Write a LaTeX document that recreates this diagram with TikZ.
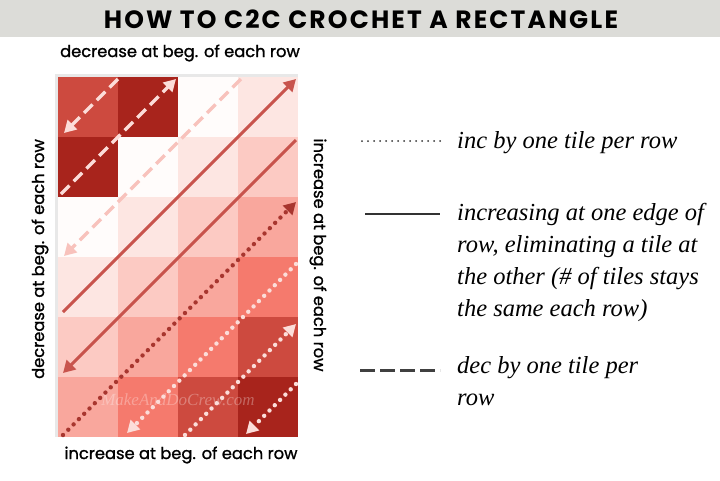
\documentclass[tikz,border=0pt]{standalone}
\usepackage{fontspec}
\setmainfont{Liberation Serif}
\newfontfamily\sanslabel[FakeBold=1.2]{Poppins}
\newfontfamily\titlefont[LetterSpace=8.7]{Poppins}
\usetikzlibrary{arrows.meta}
\definecolor{bandgrey}{HTML}{DCDCD8}
\definecolor{tile0}{HTML}{FFFCFB}
\definecolor{tile1}{HTML}{FDE6E2}
\definecolor{tile2}{HTML}{FCCAC3}
\definecolor{tile3}{HTML}{F9A79D}
\definecolor{tile4}{HTML}{F57A6D}
\definecolor{tile5}{HTML}{CD4A3F}
\definecolor{tile6}{HTML}{A8241C}
\definecolor{rowred}{HTML}{C8544D}
\definecolor{dotred}{HTML}{A8362F}
\definecolor{palewhite}{HTML}{FCDDD9}
\definecolor{palepink}{HTML}{F8C2BC}
\newcommand\rowtext[1]{{\sanslabel\fontsize{16.3}{18}\selectfont #1}}
\def\incLabel{\rowtext{increase at beg. of each row}}
\def\decLabel{\rowtext{decrease at beg. of each row}}

\begin{document}
\begin{tikzpicture}[x=1pt,y=-1pt]
\tikzset{
  tip/.style={-{Triangle[length=12pt,width=13pt]}},
  solidrow/.style={draw=rowred,line width=3pt,tip},
  dottedrow/.style={line width=4.4pt,line cap=round,dash pattern=on 0pt off 7.5pt,tip},
  dashedrow/.style={line width=3.4pt,dash pattern=on 12pt off 6pt,tip},
  key/.style={anchor=base west,inner sep=0pt,align=left,font=\fontsize{24.5}{32}\selectfont\itshape}
}
\useasboundingbox(0,0)rectangle(720,480);
\fill[bandgrey](0,0)rectangle(720,37);
\node[font=\titlefont\bfseries\fontsize{25}{28}\selectfont](title)at(361,19){HOW TO C2C CROCHET A RECTANGLE};

% tiles, darker along the two corners
\fill[black!9](55,74)rectangle(298,437);
\foreach \r in {0,...,5}
\foreach \c in {0,...,3}{
  \pgfmathtruncatemacro\lev{\r+\c<2 ? 5+\r+\c : \r+\c-2}
  \fill[tile\lev]({58+60*\c},{77+60*\r})rectangle++(60,60);
}
\node[text=white,opacity=.3,font=\fontsize{17}{20}\selectfont\itshape](mark)at(178,400){MakeAndDoCrew.com};

\coordinate(d1)at(61,194);  \coordinate(d1')at(176,79);
\coordinate(d2)at(118,79);  \coordinate(d2')at(64,133);
\coordinate(d3)at(241,79);  \coordinate(d3')at(64,256);
\coordinate(s1)at(63,312);  \coordinate(s1')at(296,79);
\coordinate(s2)at(296,140); \coordinate(s2')at(63,373);
\coordinate(p1)at(63,435);  \coordinate(p1')at(296,202);
\coordinate(p2)at(296,264); \coordinate(p2')at(127,433);
\coordinate(p3)at(185,435); \coordinate(p3')at(296,324);
\coordinate(p4)at(296,384); \coordinate(p4')at(246,434);

\draw[dashedrow,draw=palewhite](d1)--(d1');
\draw[dashedrow,draw=palewhite](d2)--(d2');
\draw[dashedrow,draw=palepink](d3)--(d3');
\draw[solidrow](s1)--(s1');
\draw[solidrow](s2)--(s2');
\draw[dottedrow,draw=dotred](p1)--(p1');
\foreach \p in {p2,p3,p4}
\draw[dottedrow,draw=palewhite](\p)--(\p');

\node(top)at(180,53){\decLabel};
\node(bottom)at(181,455){\incLabel};
\node[rotate=90](left)at(40,259){\decLabel};
\node[rotate=-90](right)at(318,255){\incLabel};

% legend
\coordinate(k1)at(362,141); \coordinate(k1')at(440,141);
\coordinate(k2)at(365,214); \coordinate(k2')at(440,214);
\coordinate(k3)at(360,370); \coordinate(k3')at(440,370);
\draw[black!80,line width=2pt,line cap=round,dash pattern=on 0pt off 6pt](k1)--(k1');
\draw[black!80,line width=2.4pt](k2)--(k2');
\draw[black!75,line width=3pt,dash pattern=on 15pt off 5pt](k3)--(k3');
\node[key](incKey)at(457,148){inc by one tile per row};
\node[key](sameKey)at(457,316){increasing at one edge of\\row, eliminating a tile at\\the other (\# of tiles stays\\the same each row)};
\node[key](decKey)at(457,405){dec by one tile per\\row};
\end{tikzpicture}
\end{document}
